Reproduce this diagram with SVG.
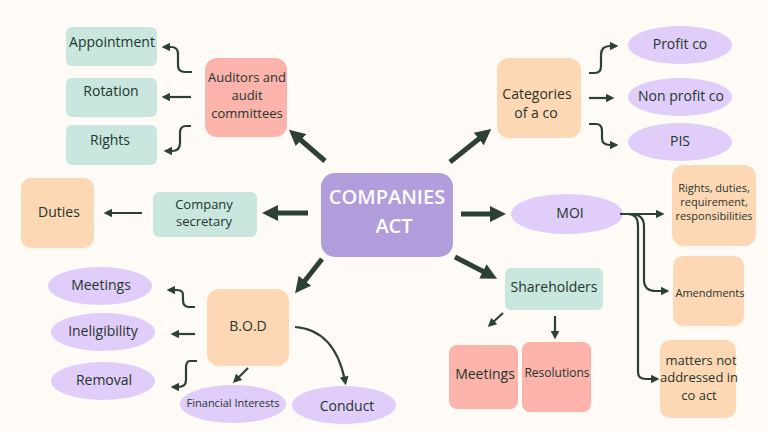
<svg xmlns="http://www.w3.org/2000/svg" width="768" height="431" viewBox="0 0 768 431">
<defs>
<style>
.t{font-family:"Open Sans","Liberation Sans",sans-serif;fill:#24362c;text-anchor:middle;dominant-baseline:middle}
.teal{fill:#c9e6df}.pink{fill:#fbb3ac}.peach{fill:#fed8b4}.lav{fill:#e0cdfa}
.thick{stroke:#2c4034;stroke-width:5;fill:none;marker-end:url(#big)}
.thin{stroke:#2c4034;stroke-width:2.2;fill:none;marker-end:url(#sm)}
</style>
<marker id="big" viewBox="0 0 10 10" refX="5" refY="5" markerWidth="3.2" markerHeight="3.2" orient="auto"><path d="M0,0L10,5L0,10z" fill="#2c4034"/></marker>
<marker id="sm" viewBox="0 0 10 10" refX="5" refY="5" markerWidth="4" markerHeight="4" orient="auto"><path d="M0,0L10,5L0,10z" fill="#2c4034"/></marker>
</defs>
<rect width="768" height="431" fill="#fefaf6"/>
<g id="center"><rect x="321" y="173" width="132" height="84" rx="14" fill="#b29ddc"/><text class="t" x="387" y="199" style="fill:#fff;font-size:20px;font-weight:600">COMPANIES</text><text class="t" x="394" y="228" style="fill:#fff;font-size:20px;font-weight:600">ACT</text></g>
<g id="appointment"><rect class="teal" x="66" y="27" width="91" height="39" rx="6"/><text class="t" x="112" y="43" font-size="14">Appointment</text></g>
<g id="rotation"><rect class="teal" x="66" y="78" width="91" height="39" rx="6"/><text class="t" x="111" y="92" font-size="14">Rotation</text></g>
<g id="rights"><rect class="teal" x="66" y="125" width="91" height="40" rx="6"/><text class="t" x="110" y="141" font-size="14">Rights</text></g>
<g id="auditors"><rect class="pink" x="205" y="58" width="82" height="79" rx="12"/><text class="t" x="247" y="79" font-size="13">Auditors and</text><text class="t" x="247" y="97" font-size="13">audit</text><text class="t" x="247" y="115" font-size="13">committees</text></g>
<g id="duties"><rect class="peach" x="21" y="178" width="73" height="70" rx="10"/><text class="t" x="59" y="213" font-size="14">Duties</text></g>
<g id="secretary"><rect class="teal" x="153" y="192" width="104" height="45" rx="6"/><text class="t" x="204" y="206" font-size="13">Company</text><text class="t" x="204" y="223" font-size="13">secretary</text></g>
<g id="meetings1"><ellipse class="lav" cx="100" cy="286" rx="52" ry="19"/><text class="t" x="101" y="286" font-size="14">Meetings</text></g>
<g id="ineligibility"><ellipse class="lav" cx="103" cy="332" rx="52" ry="19"/><text class="t" x="103" y="332" font-size="14">Ineligibility</text></g>
<g id="removal"><ellipse class="lav" cx="103" cy="381" rx="52" ry="19"/><text class="t" x="104" y="381" font-size="14">Removal</text></g>
<g id="bod"><rect class="peach" x="207" y="289" width="82" height="77" rx="12"/><text class="t" x="248" y="327" font-size="14">B.O.D</text></g>
<g id="financial"><ellipse class="lav" cx="233" cy="404" rx="53" ry="19"/><text class="t" x="233" y="404" font-size="11">Financial Interests</text></g>
<g id="conduct"><ellipse class="lav" cx="344" cy="405" rx="52" ry="19"/><text class="t" x="347" y="407" font-size="14">Conduct</text></g>
<g id="categories"><rect class="peach" x="497" y="58" width="84" height="80" rx="12"/><text class="t" x="537" y="95" font-size="14">Categories</text><text class="t" x="536" y="114" font-size="14">of a co</text></g>
<g id="profit"><ellipse class="lav" cx="680" cy="45" rx="52" ry="19"/><text class="t" x="680" y="45" font-size="14">Profit co</text></g>
<g id="nonprofit"><ellipse class="lav" cx="680" cy="97" rx="52" ry="19"/><text class="t" x="681" y="97" font-size="14">Non profit co</text></g>
<g id="pis"><ellipse class="lav" cx="680" cy="142" rx="52" ry="19"/><text class="t" x="680" y="142" font-size="14">PIS</text></g>
<g id="moi"><ellipse class="lav" cx="567" cy="214" rx="56" ry="20"/><text class="t" x="570" y="214" font-size="14">MOI</text></g>
<g id="rdr"><rect class="peach" x="672" y="165" width="84" height="81" rx="12"/><text class="t" x="714" y="189" font-size="11">Rights, duties,</text><text class="t" x="714" y="203" font-size="11">requirement,</text><text class="t" x="714" y="217" font-size="11">responsibilities</text></g>
<g id="amendments"><rect class="peach" x="673" y="256" width="71" height="70" rx="10"/><text class="t" x="710" y="294" font-size="11">Amendments</text></g>
<g id="matters"><rect class="peach" x="660" y="340" width="76" height="78" rx="10"/><text class="t" x="701" y="362" font-size="13">matters not</text><text class="t" x="699" y="379" font-size="13">addressed in</text><text class="t" x="699" y="397" font-size="13">co act</text></g>
<g id="shareholders"><rect class="teal" x="505" y="268" width="98" height="42" rx="6"/><text class="t" x="554" y="288" font-size="14">Shareholders</text></g>
<g id="meetings2"><rect class="pink" x="449" y="345" width="69" height="64" rx="8"/><text class="t" x="485" y="375" font-size="14">Meetings</text></g>
<g id="resolutions"><rect class="pink" x="522" y="342" width="69" height="70" rx="8"/><text class="t" x="557" y="374" font-size="12">Resolutions</text></g>
<g id="connectors">
<path class="thick" d="M325,161L295,135"/>
<path class="thick" d="M308,213L270,213"/>
<path class="thick" d="M322,259L300,287"/>
<path class="thick" d="M450,162L485,134"/>
<path class="thick" d="M461,214L498,214"/>
<path class="thick" d="M455,257L490,275"/>
<path class="thin" d="M192,72L185,72Q178,72 178,65L178,54Q178,47 171,47L166,47"/>
<path class="thin" d="M191,97L166,97"/>
<path class="thin" d="M191,126L186,126Q180,126 180,133L180,143Q180,151 172,151L168,151"/>
<path class="thin" d="M142,213L108,213"/>
<path class="thin" d="M195,307L189,307Q183,307 183,300L183,295Q183,290 177,290L171,290"/>
<path class="thin" d="M195,334L175,334"/>
<path class="thin" d="M197,361L190,361Q186,361 186,368L186,380Q186,387 178,387L175,387"/>
<path class="thin" d="M248,368L236,380"/>
<path class="thin" d="M295,327Q335,330 345,381"/>
<path class="thin" d="M589,73L595,73Q601,73 601,66L601,55Q601,46 610,46L614,46"/>
<path class="thin" d="M589,98L610,98"/>
<path class="thin" d="M589,124L596,124Q602,124 602,131L602,138Q602,145 610,145L614,145"/>
<path class="thin" d="M620,214L660,214"/>
<path class="thin" d="M630,214Q644,214 644,226L644,280Q644,291 656,291L665,291"/>
<path class="thin" d="M628,214Q638,214 638,226L638,372Q638,379 646,379L655,379"/>
<path class="thin" d="M503,313L491,324"/>
<path class="thin" d="M555,316L555,335"/>
</g>
</svg>
